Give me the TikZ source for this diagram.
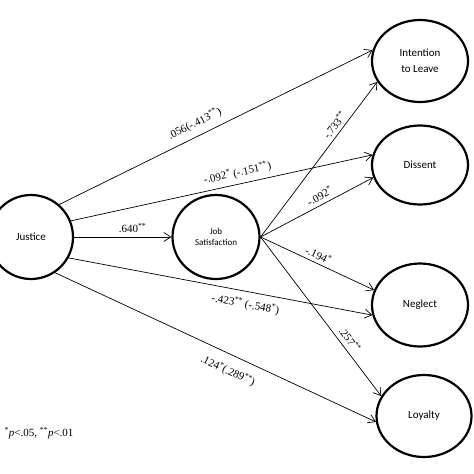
\documentclass[tikz,border=0pt]{standalone}
\usepackage{fontspec}
\setmainfont{Liberation Serif}
\newfontfamily\nodefont{Carlito}
\usetikzlibrary{shapes.geometric,arrows.meta}
\begin{document}
\begin{tikzpicture}[x=1pt,y=-1pt,
  latent/.style={draw, ellipse, line width=2.2pt, inner sep=0pt, align=center,
    font=\nodefont\fontsize{11}{16}\selectfont},
  path/.style={draw, line width=0.7pt, -{Straight Barb[length=7pt,width=9pt,line width=0.7pt]}},
  coef/.style={sloped, inner sep=2pt, font=\fontsize{11}{13}\selectfont}
]
\useasboundingbox (0,0) rectangle (474,474);
\node[latent, minimum width=84pt, minimum height=84pt] (justice) at (31,237) {Justice};
\node[latent, minimum width=87pt, minimum height=84pt,
  font=\nodefont\fontsize{9}{11}\selectfont] (js) at (216,237) {Job\\Satisfaction};
\node[latent, minimum width=96pt, minimum height=82pt] (intent) at (420,61) {Intention\\to Leave};
\node[latent, minimum width=96pt, minimum height=79pt] (dissent) at (420,165) {Dissent};
\node[latent, minimum width=96pt, minimum height=83pt] (neglect) at (420,305) {Neglect};
\node[latent, minimum width=95pt, minimum height=82pt] (loyalty) at (424,416) {Loyalty};

\draw[path] (justice.49) -- node[coef, above=4.5pt, pos=0.45] {.056(-.413\textsuperscript{**})} (intent.167);
\draw[path] (justice.22) -- node[coef, above=3pt, pos=0.56] {-.092\textsuperscript{*} (-.151\textsuperscript{**})} (dissent.168);
\draw[path] (justice.east) -- node[coef, above=2pt, pos=0.6] {.640\textsuperscript{**}} (js.west);
\draw[path] (justice.-29) -- node[coef, below=5pt, pos=0.59] {-.423\textsuperscript{**} (-.548\textsuperscript{*})} (neglect.192);
\draw[path] (justice.-56) -- node[coef, below=8pt, pos=0.56] {.124\textsuperscript{*}(.289\textsuperscript{**})} (loyalty.187);

\draw[path] (js.east) -- node[coef, above=1.5pt, pos=0.69] {-.733\textsuperscript{**}} (intent.206);
\draw[path] (js.east) -- node[coef, above=2pt, pos=0.56] {-.092\textsuperscript{*}} (dissent.195);
\draw[path] (js.east) -- node[coef, above=1.5pt, pos=0.48] {-.194\textsuperscript{*}} (neglect.162);
\draw[path] (js.east) -- node[coef, above=2.5pt, pos=0.68] {.257\textsuperscript{**}} (loyalty.155);

\node[font=\fontsize{11}{13}\selectfont, inner sep=0pt] (note) at (39,433)
  {\textsuperscript{*}\textit{p}<.05, \textsuperscript{**}\textit{p}<.01};
\end{tikzpicture}
\end{document}
